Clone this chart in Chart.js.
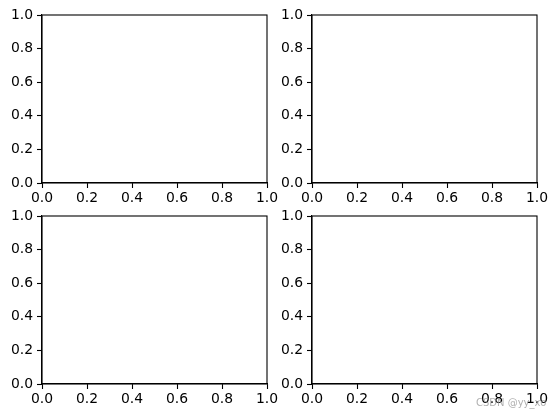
<!DOCTYPE html>
<html>
<head>
<meta charset="utf-8">
<script src="https://cdn.jsdelivr.net/npm/chart.js@4/dist/chart.umd.min.js"></script>
<style>
  html, body { margin: 0; padding: 0; background: #fff; }
  #wrap { position: relative; width: 558px; height: 418px; overflow: hidden; }
  #wrap canvas { position: absolute; left: 0; top: 0; }
  #mark { position: absolute; left: 476px; top: 397px; font: 10px "DejaVu Sans", sans-serif; color: rgba(150,150,150,0.75); white-space: nowrap; }
</style>
</head>
<body>
<div id="wrap">
  <canvas id="c0" width="558" height="418"></canvas>
  <canvas id="c1" width="558" height="418"></canvas>
  <canvas id="c2" width="558" height="418"></canvas>
  <canvas id="c3" width="558" height="418"></canvas>
  <div id="mark">CSDN @yy_xo</div>
</div>
<script>
// data: four empty subplots, axes 0..1
const xTickValues = [0, 0.2, 0.4, 0.6, 0.8, 1.0];
const yTickValues = [0, 0.2, 0.4, 0.6, 0.8, 1.0];
const xTickLabels = ['0.0', '0.2', '0.4', '0.6', '0.8', '1.0'];
const yTickLabels = ['0.0', '0.2', '0.4', '0.6', '0.8', '1.0'];
const seriesPoints = []; // nothing plotted

const W = 558, H = 418;
// plot area of each subplot: left, top, right, bottom (px)
const boxes = [
  [42, 15, 267, 183],
  [312, 15, 537, 183],
  [42, 216, 267, 384],
  [312, 216, 537, 384]
];
const YW = 42, XH = 30;

const frame = {
  id: 'frame',
  afterDraw(chart) {
    const a = chart.chartArea, ctx = chart.ctx;
    ctx.save();
    ctx.strokeStyle = '#000';
    ctx.lineWidth = 1.1;
    ctx.strokeRect(a.left, a.top, a.right - a.left, a.bottom - a.top);
    ctx.restore();
  }
};

const font = { family: 'DejaVu Sans', size: 13.9 };

boxes.forEach((b, i) => {
  const cv = document.getElementById('c' + i);
  new Chart(cv, {
    type: 'scatter',
    data: { datasets: [{ data: seriesPoints }] },
    options: {
      responsive: false,
      maintainAspectRatio: false,
      animation: false,
      devicePixelRatio: 1,
      layout: { padding: { left: b[0] - YW, top: b[1], right: W - b[2], bottom: H - b[3] - XH } },
      plugins: { legend: { display: false }, tooltip: { enabled: false } },
      scales: {
        x: {
          type: 'linear', min: 0, max: 1,
          afterBuildTicks: s => { s.ticks = xTickValues.map(v => ({ value: v })); },
          afterFit: s => { s.height = XH; },
          grid: { drawOnChartArea: false, drawTicks: true, tickLength: 5, tickColor: '#000', tickWidth: 1.1 },
          border: { display: true, color: '#000', width: 1.1 },
          ticks: { color: '#000', font: font, padding: 2, maxRotation: 0, autoSkip: false,
                   callback: (v, k) => xTickLabels[k] }
        },
        y: {
          type: 'linear', min: 0, max: 1,
          afterBuildTicks: s => { s.ticks = yTickValues.map(v => ({ value: v })); },
          afterFit: s => { s.width = YW; },
          grid: { drawOnChartArea: false, drawTicks: true, tickLength: 5, tickColor: '#000', tickWidth: 1.1 },
          border: { display: true, color: '#000', width: 1.1 },
          ticks: { color: '#000', font: font, padding: 4, autoSkip: false,
                   callback: (v, k) => yTickLabels[k] }
        }
      }
    },
    plugins: [frame]
  });
});
</script>
</body>
</html>
